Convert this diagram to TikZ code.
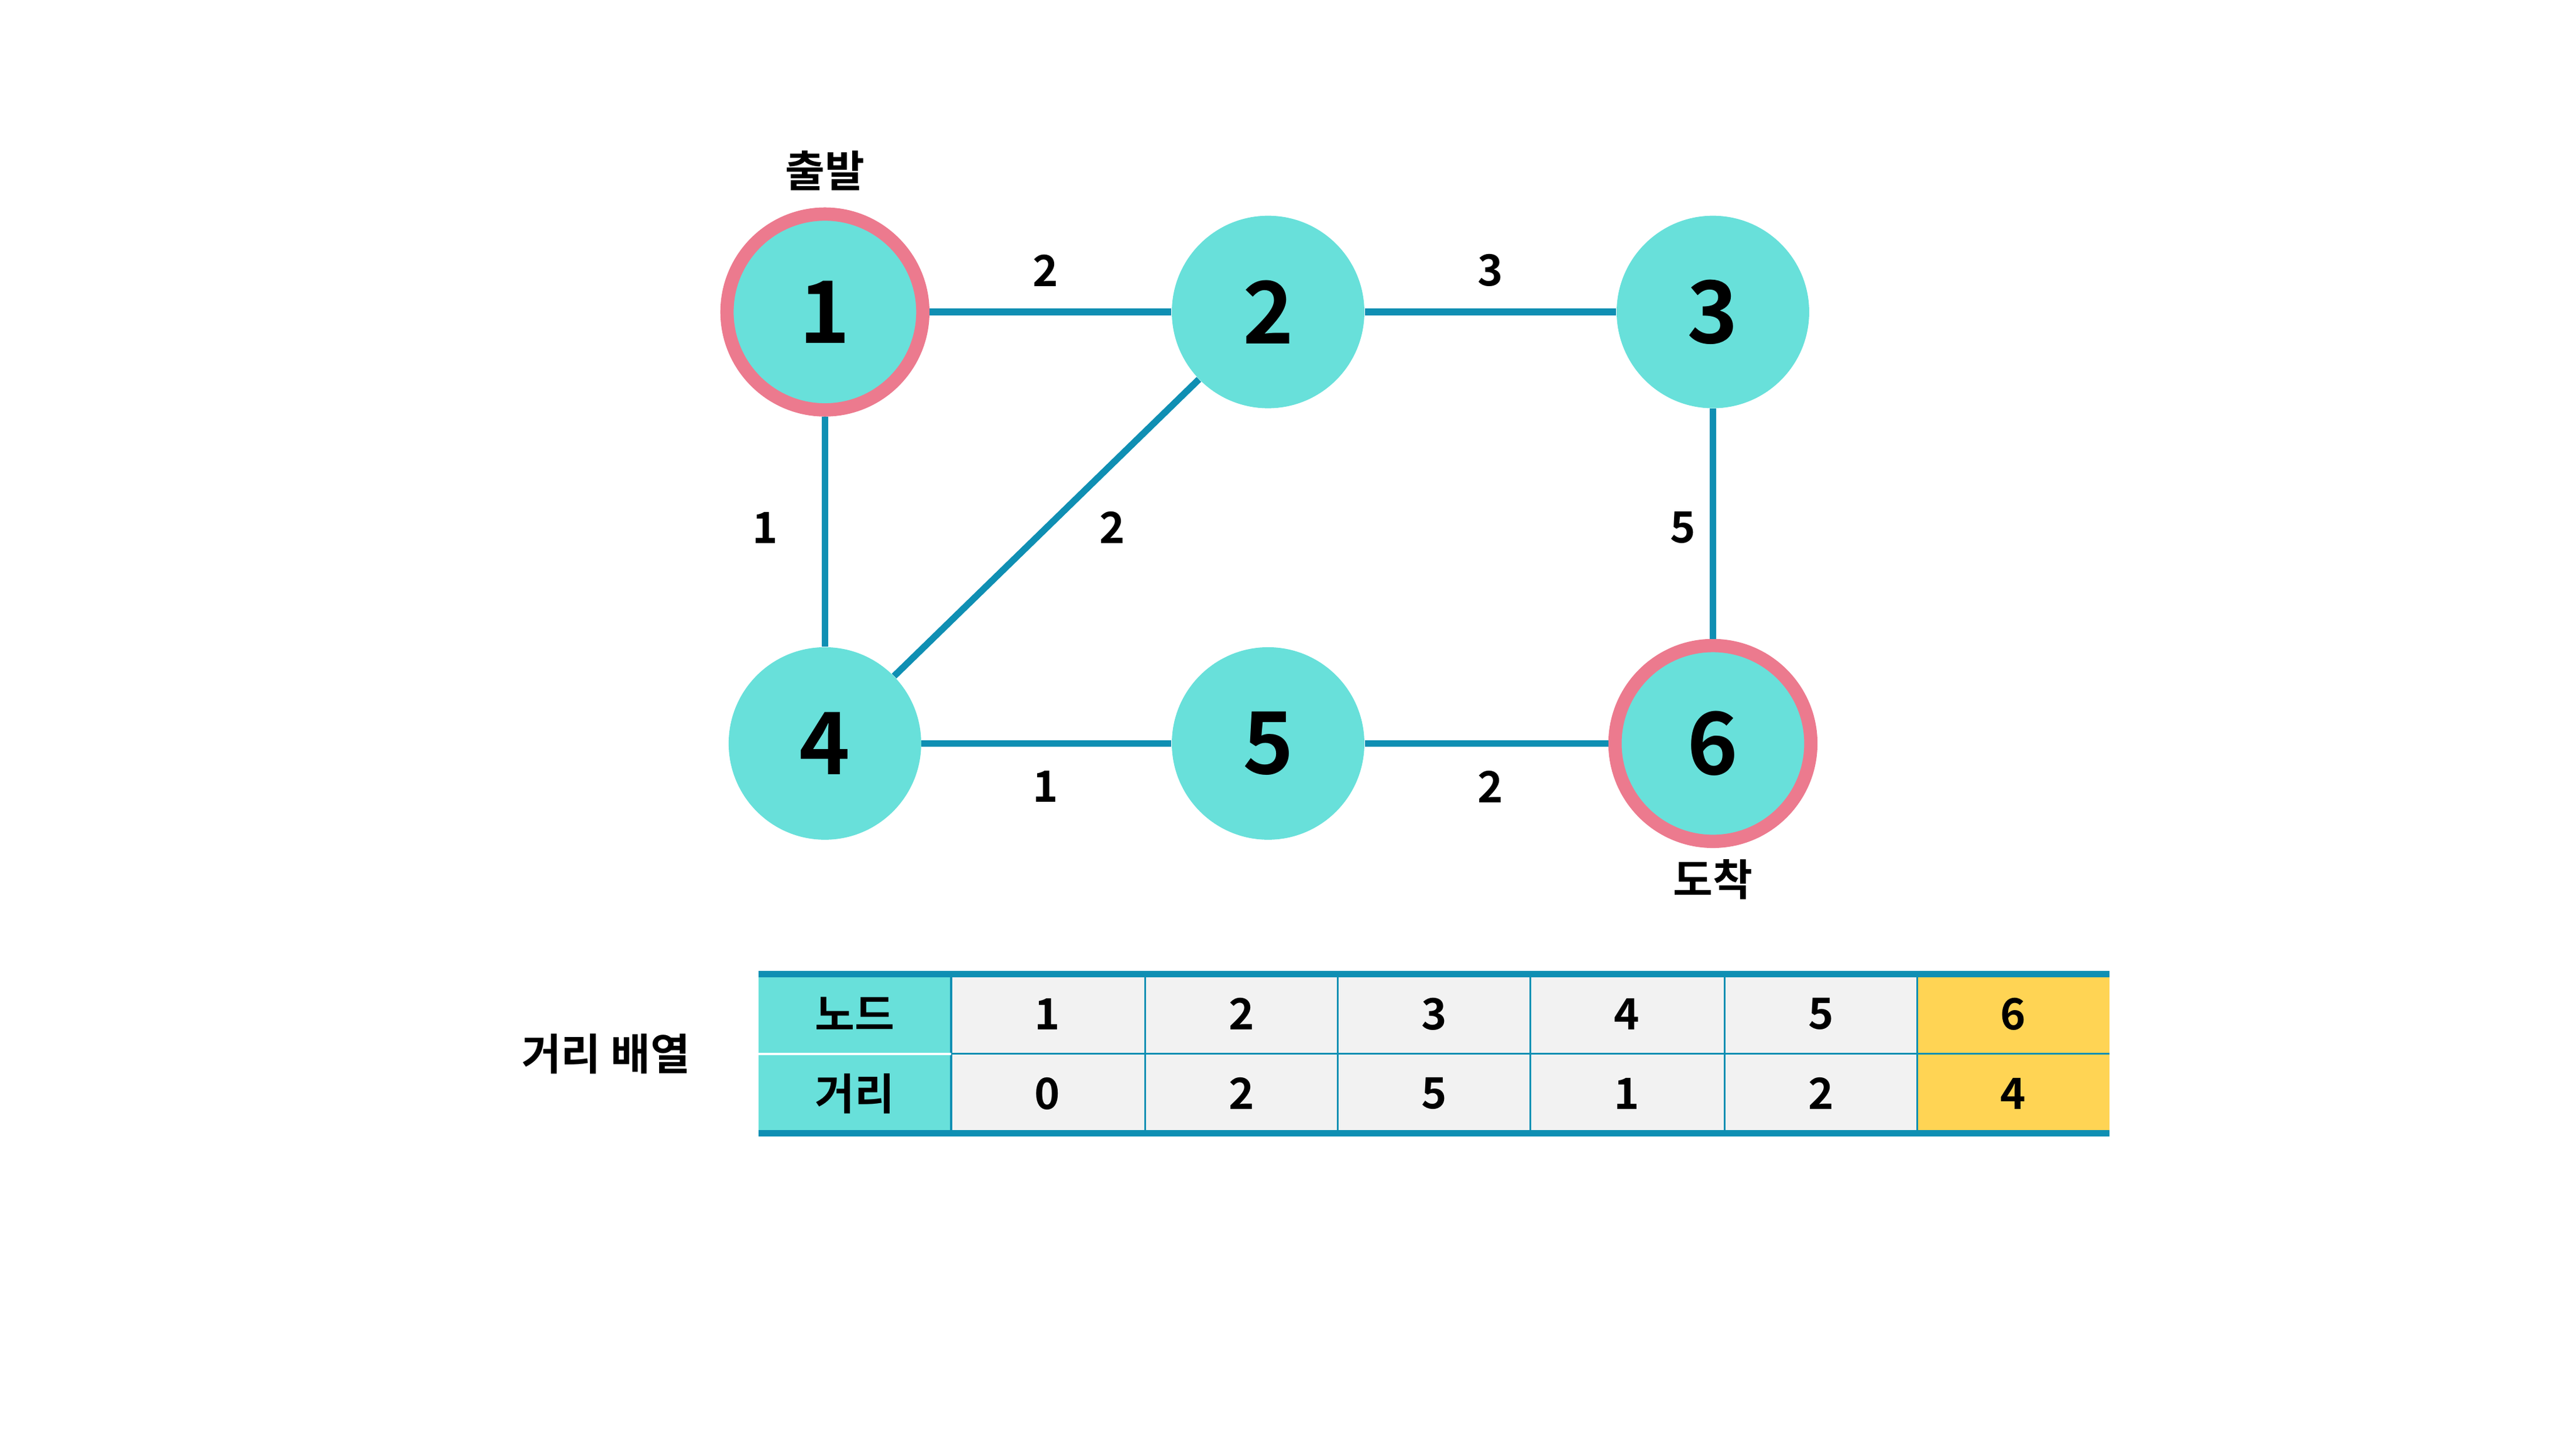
\documentclass[tikz,border=0pt]{standalone}
\usepackage{fontspec}
\setmainfont{Noto Sans CJK KR}[BoldFont={* Bold}]
\definecolor{teal}{HTML}{68E0DA}
\definecolor{edge}{HTML}{0F8FB3}
\definecolor{pinkc}{HTML}{EC7A8E}
\definecolor{yel}{HTML}{FFD454}
\definecolor{gry}{HTML}{F2F2F2}
\begin{document}
\begin{tikzpicture}[x=1pt,y=-1pt,
  vert/.style={circle,fill=teal,minimum size=116pt,inner sep=0pt,font=\bfseries\fontsize{52}{52}\selectfont},
  ring/.style={vert,draw=pinkc,line width=8pt,minimum size=118pt},
  wl/.style={font=\bfseries\fontsize{26}{26}\selectfont},
  ln/.style={edge,line width=4pt},
  cell/.style={font=\bfseries\fontsize{26}{26}\selectfont}]
\useasboundingbox (0,0) rectangle (1552,873);
\node[ring] (n1) at (497,188) {1};
\node[vert] (n2) at (764,188) {2};
\node[vert] (n3) at (1032,188) {3};
\node[vert] (n4) at (497,448) {4};
\node[vert] (n5) at (764,448) {5};
\node[ring] (n6) at (1032,448) {6};
\draw[ln] (n1) -- (n2);
\draw[ln] (n2) -- (n3);
\draw[ln] (n1) -- (n4);
\draw[ln] (n2) -- (n4);
\draw[ln] (n3) -- (n6);
\draw[ln] (n4) -- (n5);
\draw[ln] (n5) -- (n6);
\node[wl] (l1) at (630,163) {2};
\node[wl] (l2) at (898,163) {3};
\node[wl] (l3) at (461,318) {1};
\node[wl] (l4) at (670,318) {2};
\node[wl] (l5) at (1014,318) {5};
\node[wl] (l6) at (630,474) {1};
\node[wl] (l7) at (898,474) {2};
\node[wl] (s) at (497,103) {출발};
\node[wl] (e) at (1032,530) {도착};
\node[wl] (arr) at (365,635) {거리 배열};
% table
\fill[teal] (457,587) rectangle (573,683);
\fill[gry] (573,587) rectangle (1155,683);
\fill[yel] (1155,587) rectangle (1271,683);
\draw[edge,line width=1.2pt] (457,635) -- (1271,635);
\foreach \x in {573,690,806,922,1039,1155} \draw[edge,line width=1.2pt] (\x,587) -- (\x,683);
\draw[white,line width=1.5pt] (457,635) -- (573,635);
\draw[edge,line width=4pt] (457,587) -- (1271,587);
\draw[edge,line width=4pt] (457,683) -- (1271,683);
\node[cell] (h0) at (515,611) {노드};
\node[cell] (d0) at (515,659) {거리};
\foreach \x/\a/\b [count=\i] in {631/1/0,748/2/2,864/3/5,980/4/1,1097/5/2,1213/6/4}{
  \node[cell] (h\i) at (\x,611) {\a};
  \node[cell] (d\i) at (\x,659) {\b};
}
\end{tikzpicture}
\end{document}
